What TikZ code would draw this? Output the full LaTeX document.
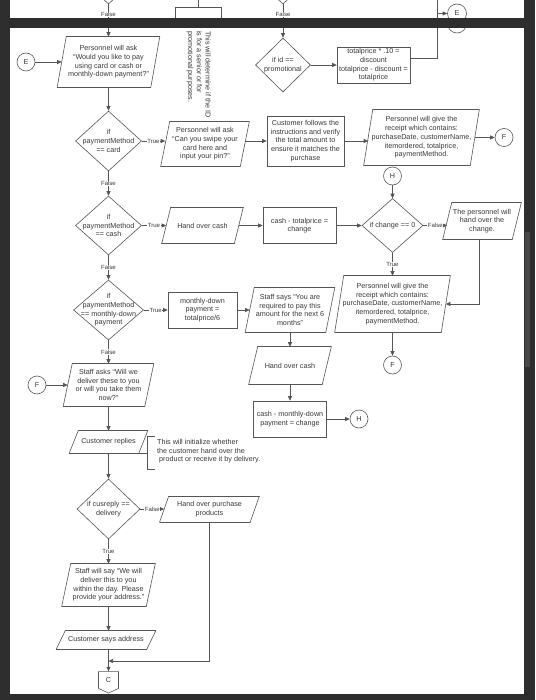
\documentclass[tikz,border=0pt]{standalone}
\usepackage{fontspec}
\setmainfont{Liberation Sans}
\usetikzlibrary{shapes,shapes.geometric,shapes.symbols,arrows.meta}
\definecolor{fcline}{HTML}{555555}
\definecolor{fctext}{HTML}{383838}
\definecolor{fcdark}{HTML}{2E2E2E}
\definecolor{fcscroll}{HTML}{474747}
\tikzset{
  fc_base/.style = {draw=fcline, fill=white, line width=0.6pt, inner sep=0pt, text=fctext, font=\fontsize{7.2}{8.7}\selectfont, align=center},
  fc_txt/.style = {inner sep=0pt, text=fctext, font=\fontsize{7.2}{8.7}\selectfont, align=center},
  fc_side/.style = {draw=fcline, line width=0.6pt, line cap=round},
  fc_io/.style = {fc_base, rectangle, draw=none, fill=none,
    append after command={
      ([xshift=-4.5pt]\tikzlastnode.south west) edge[fc_side] ([xshift=4.5pt]\tikzlastnode.north west)
      ([xshift=4.5pt]\tikzlastnode.north west) edge[fc_side] ([xshift=4.5pt]\tikzlastnode.north east)
      ([xshift=4.5pt]\tikzlastnode.north east) edge[fc_side] ([xshift=-4.5pt]\tikzlastnode.south east)
      ([xshift=-4.5pt]\tikzlastnode.south east) edge[fc_side] ([xshift=-4.5pt]\tikzlastnode.south west)
    }},
  fc_dec/.style = {fc_base, diamond},
  fc_proc/.style = {fc_base, rectangle},
  fc_conn/.style = {fc_base, circle, minimum size=18pt},
  fc_page/.style = {fc_base, signal, signal to=south, signal pointer angle=130, minimum width=20pt, minimum height=18pt},
  fc_lbl/.style = {fill=white, inner sep=0.6pt, text=fctext, font=\fontsize{6}{7}\selectfont},
  fc_arr/.style = {draw=fcline, line width=0.6pt, -{Triangle[length=4.5pt,width=4pt]}},
  fc_ln/.style = {draw=fcline, line width=0.6pt}
}

\begin{document}
\begin{tikzpicture}[x=1pt, y=-1pt]
	\useasboundingbox (0,0) rectangle (535,700);
	\fill[fcdark] (0,0) rectangle (535,700);
	\fill[white] (10,0) rectangle (524,18);
	\fill[white] (10,28) rectangle (524,694);
	\fill[fcscroll] (525,232) rectangle (530,367);

	% end of the page above
	\node[fc_dec, minimum width=66pt, minimum height=60pt] (dec_prev_a) at (108.5,-26) {};
	\node[fc_dec, minimum width=66pt, minimum height=60pt] (dec_prev_b) at (283,-26) {};
	\draw[fc_ln] (175,24) |- (221,7) -- (221,24);
	\draw[fc_ln] (198,7) -- (198,-2);
	\node[fc_conn, minimum size=19pt] (con_e_out) at (457,13.5) {E};
	\begin{scope}
		\clip (440,28) rectangle (480,40);
		\node[fc_conn, minimum size=19pt] (con_e_cut) at (457,23.5) {};
	\end{scope}
	\coordinate (e_from_above) at (437,-2);
	\draw[fc_ln] (e_from_above) -- (e_from_above |- con_e_out.west);

	\node[fc_conn] (con_e_in) at (26,62) {E};
	\node[fc_io, minimum width=93pt, minimum height=50pt] (io_ask_pay) at (108.5,62) {Personnel will ask\\“Would you like to pay\\using card or cash or\\monthly-down payment?”};
	\node[fc_txt, align=left, rotate=-90, anchor=north west] (note_id) at (211,31) {This will determine if the ID\\is for a senior or for\\promotional purposes.};
	\node[fc_dec, minimum width=55pt, minimum height=54pt, label={[fc_txt]center:{if id ==\\promotional}}] (dec_promo) at (283,65) {};
	\node[fc_proc, minimum width=73pt, minimum height=36pt] (proc_disc) at (373.5,65) {totalprice * .10 =\\discount\\totalprice - discount =\\totalprice};

	\node[fc_dec, minimum width=66pt, minimum height=60pt, label={[fc_txt]center:{if\\paymentMethod\\== card}}] (dec_card) at (108.5,141) {};
	\node[fc_io, minimum width=79pt, minimum height=44pt] (io_swipe) at (205,144) {Personnel will ask\\“Can you swipe your\\card here and\\input your pin?”};
	\node[fc_proc, minimum width=77pt, minimum height=50pt] (proc_verify) at (305.5,141) {Customer follows the\\instructions and verify\\the total amount to\\ensure it matches the\\purchase};
	\node[fc_io, minimum width=106pt, minimum height=55pt] (io_receipt_a) at (421.5,137.5) {Personnel will give the\\receipt which contains:\\purchaseDate, customerName,\\itemordered, totalprice,\\paymentMethod.};
	\node[fc_conn] (con_f_a) at (504,137.5) {F};

	\node[fc_dec, minimum width=66pt, minimum height=59pt, label={[fc_txt]center:{if\\paymentMethod\\== cash}}] (dec_cash) at (108.5,225.5) {};
	\node[fc_io, minimum width=72pt, minimum height=36pt] (io_cash_a) at (202.5,225.5) {Hand over cash};
	\node[fc_proc, minimum width=73pt, minimum height=36pt] (proc_change) at (299.5,225.5) {cash - totalprice =\\change};
	\node[fc_dec, minimum width=61pt, minimum height=54pt, label={[fc_txt]center:if change == 0}] (dec_change) at (392.5,225.5) {};
	\node[fc_conn] (con_h_a) at (392.5,176) {H};
	\node[fc_io, minimum width=69pt, minimum height=36pt] (io_give_change) at (482,221) {The personnel will\\hand over the\\change.};
	\node[fc_io, minimum width=106pt, minimum height=56pt] (io_receipt_b) at (392.5,304) {Personnel will give the\\receipt which contains:\\purchaseDate, customerName,\\itemordered, totalprice,\\paymentMethod.};
	\node[fc_conn] (con_f_b) at (392.5,365) {F};

	\node[fc_dec, minimum width=70pt, minimum height=60pt, label={[fc_txt]center:{if\\paymentMethod\\== monthly-down\\payment}}] (dec_monthly) at (108.5,310) {};
	\node[fc_proc, minimum width=69pt, minimum height=36pt] (proc_monthly) at (202.5,310) {monthly-down\\payment =\\totalprice/6};
	\node[fc_io, minimum width=80pt, minimum height=44pt] (io_six_months) at (290,310) {Staff says “You are\\required to pay this\\amount for the next 6\\months”};
	\node[fc_io, minimum width=73pt, minimum height=37pt] (io_cash_b) at (290,365.5) {Hand over cash};
	\node[fc_proc, minimum width=73pt, minimum height=36pt] (proc_change_b) at (290,419) {cash - monthly-down\\payment = change};
	\node[fc_conn] (con_h_b) at (359,419) {H};

	\node[fc_io, minimum width=81pt, minimum height=42pt] (io_staff_ask) at (108.5,385) {Staff asks “Will we\\deliver these to you\\or will you take them\\now?”};
	\node[fc_conn] (con_f_c) at (37,385) {F};
	\node[fc_io, minimum width=69pt, minimum height=22pt] (io_replies) at (108.5,442) {Customer replies};
	\node[fc_txt, align=left, anchor=north west] (note_delivery) at (157,439) {This will initialize whether\\the customer hand over the\\\hspace*{2pt}product or receive it by delivery.};
	\draw[fc_ln] (155,436) -| (147,469) -- (155,469);
	\draw[fc_ln] ([xshift=-4.5pt]io_replies.south east) -- ++(8,0);

	\node[fc_dec, minimum width=63pt, minimum height=60pt, label={[fc_txt]center:{if cusreply ==\\delivery}}] (dec_delivery) at (108.5,509) {};
	\node[fc_io, minimum width=90pt, minimum height=25pt] (io_products) at (209.5,509) {Hand over purchase\\products};
	\node[fc_io, minimum width=84pt, minimum height=42pt] (io_will_say) at (108.5,585) {Staff will say “We will\\deliver this to you\\within the day. Please\\provide your address.”};
	\node[fc_io, minimum width=90pt, minimum height=18pt] (io_says_addr) at (106,640) {Customer says address};
	\coordinate (k_join) at (108.5,661);
	\node[fc_page] (con_c) at (108.5,680) {C};

	\draw[fc_arr] (dec_prev_a.south) -- node[fc_lbl, pos=0.32] (lbl_false_a) {False} (io_ask_pay.north);
	\draw[fc_arr] (dec_prev_b.south) -- node[fc_lbl, pos=0.31] (lbl_false_b) {False} (dec_promo.north);
	\draw[fc_arr] (con_e_in) -- (io_ask_pay);
	\draw[fc_arr] (io_ask_pay) -- (dec_card);
	\draw[fc_arr] (dec_promo) -- (proc_disc);
	\draw[fc_arr] ([yshift=7pt]proc_disc.east) -- ++(27,0) |- (con_e_out.west);

	\draw[fc_arr] (dec_card.east) -- node[fc_lbl] (lbl_true_card) {True} (dec_card.east -| io_swipe.west);
	\draw[fc_arr] (io_swipe.east |- proc_verify.west) -- (proc_verify.west);
	\draw[fc_arr] (proc_verify.east) -- (proc_verify.east -| io_receipt_a.west);
	\draw[fc_arr] (io_receipt_a) -- (con_f_a);
	\draw[fc_arr] (dec_card) -- node[fc_lbl] (lbl_false_card) {False} (dec_cash);

	\draw[fc_arr] (dec_cash) -- node[fc_lbl] (lbl_true_cash) {True} (io_cash_a);
	\draw[fc_arr] (io_cash_a) -- (proc_change);
	\draw[fc_arr] (proc_change) -- (dec_change);
	\draw[fc_arr] (con_h_a) -- (dec_change);
	\draw[fc_arr] (dec_change.east) -- node[fc_lbl] (lbl_false_change) {False} (dec_change.east -| io_give_change.west);
	\draw[fc_arr] (dec_change) -- node[fc_lbl] (lbl_true_change) {True} (io_receipt_b);
	\draw[fc_arr] ([xshift=-3pt]io_give_change.south) |- (io_receipt_b.east);
	\draw[fc_arr] (io_receipt_b) -- (con_f_b);
	\draw[fc_arr] (dec_cash) -- node[fc_lbl] (lbl_false_cash) {False} (dec_monthly);

	\draw[fc_arr] (dec_monthly) -- node[fc_lbl] (lbl_true_monthly) {True} (proc_monthly);
	\draw[fc_arr] (proc_monthly) -- (io_six_months);
	\draw[fc_arr] (io_six_months) -- (io_cash_b);
	\draw[fc_arr] (io_cash_b) -- (proc_change_b);
	\draw[fc_arr] (proc_change_b) -- (con_h_b);
	\draw[fc_arr] (dec_monthly) -- node[fc_lbl] (lbl_false_monthly) {False} (io_staff_ask);

	\draw[fc_arr] (con_f_c) -- (io_staff_ask);
	\draw[fc_arr] (io_staff_ask) -- (io_replies);
	\draw[fc_arr] (io_replies) -- (dec_delivery);
	\draw[fc_arr] (dec_delivery) -- node[fc_lbl] (lbl_false_delivery) {False} (io_products);
	\draw[fc_arr] (dec_delivery) -- node[fc_lbl] (lbl_true_delivery) {True} (io_will_say);
	\draw[fc_arr] (io_will_say) -- (io_will_say |- io_says_addr.north);
	\draw[fc_arr] (io_says_addr.south -| con_c.north) -- (con_c.north);
	\draw[fc_arr] (io_products.south) |- (k_join);

	\fill[fcdark] (0,18) rectangle (535,28);
\end{tikzpicture}
\end{document}
